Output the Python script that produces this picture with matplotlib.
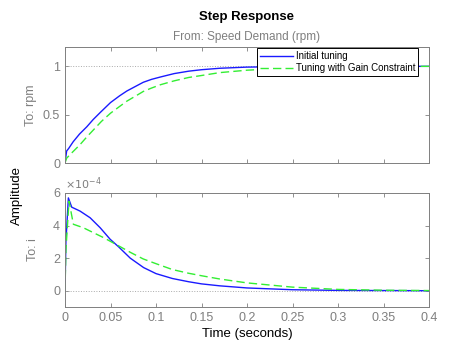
import matplotlib.pyplot as plt
import numpy as np

plt.rcParams["font.family"] = ["Liberation Sans", "DejaVu Sans"]

# values
t_rpm_init = [0, 0.0018, 0.004, 0.009, 0.016, 0.024, 0.031, 0.039, 0.05, 0.06, 0.068, 0.078, 0.086, 0.095, 0.105, 0.12, 0.136, 0.15, 0.17, 0.2, 0.25, 0.3, 0.35, 0.4]
y_rpm_init = [0, 0.124, 0.15, 0.22, 0.3, 0.375, 0.45, 0.525, 0.625, 0.695, 0.745, 0.795, 0.835, 0.865, 0.89, 0.925, 0.95, 0.965, 0.98, 0.992, 0.998, 1.0, 1.0, 1.0]
t_rpm_gain = [0, 0.0018, 0.008, 0.0165, 0.024, 0.031, 0.04, 0.05, 0.06, 0.068, 0.078, 0.086, 0.095, 0.105, 0.12, 0.136, 0.15, 0.17, 0.2, 0.25, 0.3, 0.35, 0.4]
y_rpm_gain = [0, 0.05, 0.11, 0.19, 0.27, 0.34, 0.43, 0.515, 0.585, 0.64, 0.695, 0.74, 0.775, 0.81, 0.85, 0.885, 0.905, 0.935, 0.96, 0.985, 0.994, 0.998, 1.0]

t_i_init = [0, 0.001, 0.0037, 0.0074, 0.0165, 0.0276, 0.0386, 0.0496, 0.0588, 0.0717, 0.0864, 0.1, 0.118, 0.136, 0.15, 0.17, 0.2, 0.25, 0.3, 0.35, 0.4]
y_i_init = [0, 3.0, 5.7, 5.13, 4.89, 4.48, 3.87, 3.16, 2.7, 2.0, 1.42, 1.05, 0.75, 0.55, 0.42, 0.3, 0.17, 0.06, 0.02, 0.01, 0.0]
t_i_gain = [0, 0.001, 0.0044, 0.0092, 0.02, 0.031, 0.042, 0.0588, 0.072, 0.086, 0.1, 0.118, 0.136, 0.15, 0.17, 0.2, 0.25, 0.3, 0.35, 0.4]
y_i_gain = [0, 2.5, 5.5, 4.08, 3.87, 3.57, 3.27, 2.76, 2.35, 1.95, 1.66, 1.3, 1.07, 0.92, 0.72, 0.48, 0.22, 0.08, 0.03, 0.01]

gray = "#7f7f7f"
blue = "#1a1aff"
green = "#33ee33"

fig = plt.figure(figsize=(4.74, 3.55), dpi=100)
ax1 = fig.add_axes([65/474, 1 - 163/355, 364/474, 116/355])
ax2 = fig.add_axes([65/474, 1 - 307/355, 364/474, 114/355])

for ax in (ax1, ax2):
    ax.set_xlim(0, 0.4)
    ax.set_xticks(np.arange(0, 0.41, 0.05))
    ax.tick_params(direction="in", top=True, right=True, length=3, width=0.6,
                   colors=gray, labelsize=9, labelcolor=gray)
    for s in ax.spines.values():
        s.set_color(gray)
        s.set_linewidth(0.7)

ax1.axhline(1, color="#aaaaaa", lw=0.7, ls=":")
ax1.plot(t_rpm_init, y_rpm_init, color=blue, lw=1, label="Initial tuning")
ax1.plot(t_rpm_gain, y_rpm_gain, color=green, lw=1, ls=(0, (6, 3)), label="Tuning with Gain Constraint")
ax1.set_ylim(0, 1.2)
ax1.set_yticks([0, 0.5, 1])
ax1.set_yticklabels(["0", "0.5", "1"])
ax1.set_xticklabels([])
ax1.set_ylabel("To: rpm", color=gray, fontsize=9, labelpad=4)
leg = ax1.legend(loc="upper right", bbox_to_anchor=(0.970, 0.99), borderaxespad=0, fontsize=7,
                 fancybox=False, framealpha=1, edgecolor="black",
                 borderpad=0.3, labelspacing=0.2, handlelength=3.4, handletextpad=0.3)
leg.get_frame().set_linewidth(0.7)

ax2.axhline(0, color="#aaaaaa", lw=0.7, ls=":")
ax2.plot(t_i_init, y_i_init, color=blue, lw=1)
ax2.plot(t_i_gain, y_i_gain, color=green, lw=1, ls=(0, (6, 3)))
ax2.set_ylim(-1, 6)
ax2.set_yticks([0, 2, 4, 6])
ax2.set_xticklabels(["0", "0.05", "0.1", "0.15", "0.2", "0.25", "0.3", "0.35", "0.4"])
ax2.set_ylabel("To: i", color=gray, fontsize=9, labelpad=10)
ax2.text(0.0, 1.01, r"$\times 10^{-4}$", transform=ax2.transAxes, color=gray,
         fontsize=8, ha="left", va="bottom", math_fontfamily="dejavusans")
ax2.set_xlabel("Time (seconds)", fontsize=9.5, labelpad=3)

fig.text(247/474, 1 - 17/355, "Step Response", ha="center", va="center",
         fontsize=9.5, fontweight="bold")
fig.text(247/474, 1 - 37/355, "From: Speed Demand (rpm)", ha="center", va="center",
         fontsize=8.5, color=gray)
fig.text(17/474, 1 - 195/355, "Amplitude", rotation=90, ha="center", va="center", fontsize=9.5)

fig.savefig("out.png", dpi=100)
